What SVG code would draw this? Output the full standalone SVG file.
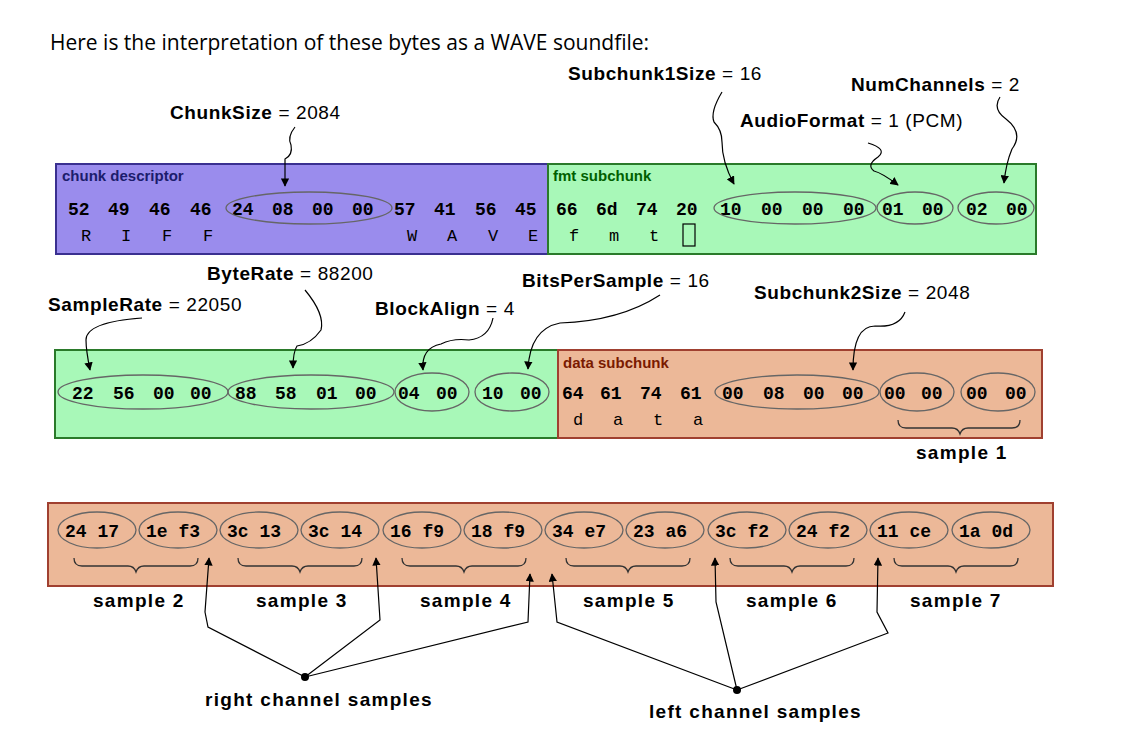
<svg xmlns="http://www.w3.org/2000/svg" width="1124" height="749" viewBox="0 0 1124 749">
<defs>
<marker id="ah" viewBox="0 0 10 10" refX="9" refY="5" markerWidth="7" markerHeight="7" orient="auto"><path d="M0,0 L10,5 L0,10 Z" fill="#000"/></marker>
<style>
.hx{font-family:"Liberation Mono",monospace;font-size:18px;font-weight:bold;fill:#000}
.ch{font-family:"Liberation Mono",monospace;font-size:17px;fill:#000}
.lb{font-family:"Liberation Sans",Arial,sans-serif;font-size:19px;letter-spacing:0.6px;fill:#000}
.lb .n{font-weight:bold}
.ov{fill:none;stroke:#666;stroke-width:1.3}
.cn{fill:none;stroke:#000;stroke-width:1.2}
.br{fill:none;stroke:#333;stroke-width:1.3}
.sl{font-family:"Liberation Sans",Arial,sans-serif;font-size:19px;letter-spacing:1.3px;font-weight:bold;fill:#000}
</style>
</defs>
<rect width="1124" height="749" fill="#fff"/>
<text x="50" y="50" font-family="'Open Sans',sans-serif" font-size="21" fill="#000">Here is the interpretation of these bytes as a WAVE soundfile:</text>

<g id="chunk-descriptor">
<rect x="56" y="164" width="492" height="90" fill="#9a8ced" stroke="#3a3090" stroke-width="2"/>
<text x="62" y="181" font-family="'Liberation Sans',sans-serif" font-size="15" font-weight="bold" fill="#1c1c6c">chunk descriptor</text>
<text class="hx" y="215"><tspan x="68">52</tspan><tspan x="108">49</tspan><tspan x="149">46</tspan><tspan x="190">46</tspan><tspan x="232">24</tspan><tspan x="272">08</tspan><tspan x="312">00</tspan><tspan x="352">00</tspan><tspan x="394">57</tspan><tspan x="434">41</tspan><tspan x="475">56</tspan><tspan x="515">45</tspan></text>
<text class="ch" y="241"><tspan x="81">R</tspan><tspan x="121">I</tspan><tspan x="162">F</tspan><tspan x="203">F</tspan><tspan x="407">W</tspan><tspan x="447">A</tspan><tspan x="488">V</tspan><tspan x="528">E</tspan></text>
<ellipse class="ov" cx="309" cy="208" rx="83" ry="16"/>
</g>

<g id="fmt-subchunk">
<rect x="548" y="164" width="488" height="90" fill="#a8f8b8" stroke="#2a7a2a" stroke-width="2"/>
<text x="553" y="181" font-family="'Liberation Sans',sans-serif" font-size="15" font-weight="bold" fill="#006000">fmt subchunk</text>
<text class="hx" y="215"><tspan x="556">66</tspan><tspan x="596">6d</tspan><tspan x="636">74</tspan><tspan x="676">20</tspan><tspan x="720">10</tspan><tspan x="761">00</tspan><tspan x="802">00</tspan><tspan x="843">00</tspan><tspan x="882">01</tspan><tspan x="922">00</tspan><tspan x="966">02</tspan><tspan x="1006">00</tspan></text>
<text class="ch" y="241"><tspan x="569">f</tspan><tspan x="609">m</tspan><tspan x="649">t</tspan></text>
<rect x="683" y="224" width="12" height="22" fill="none" stroke="#000" stroke-width="1.2"/>
<ellipse class="ov" cx="795" cy="208" rx="81" ry="16"/>
<ellipse class="ov" cx="915" cy="208" rx="38" ry="16"/>
<ellipse class="ov" cx="996" cy="208" rx="38" ry="16"/>
</g>

<g id="fmt2">
<rect x="55" y="350" width="503" height="88" fill="#a8f8b8" stroke="#2a7a2a" stroke-width="2"/>
<text class="hx" y="399"><tspan x="72">22</tspan><tspan x="113">56</tspan><tspan x="153">00</tspan><tspan x="190">00</tspan><tspan x="235">88</tspan><tspan x="275">58</tspan><tspan x="316">01</tspan><tspan x="355">00</tspan><tspan x="398">04</tspan><tspan x="436">00</tspan><tspan x="482">10</tspan><tspan x="520">00</tspan></text>
<ellipse class="ov" cx="143" cy="392" rx="85" ry="17"/>
<ellipse class="ov" cx="311" cy="392" rx="83" ry="17"/>
<ellipse class="ov" cx="432" cy="392" rx="37" ry="19"/>
<ellipse class="ov" cx="512" cy="392" rx="37" ry="19"/>
</g>

<g id="data-subchunk">
<rect x="558" y="350" width="484" height="88" fill="#ecb898" stroke="#a04030" stroke-width="2"/>
<text x="563" y="368" font-family="'Liberation Sans',sans-serif" font-size="15" font-weight="bold" fill="#7a1a00">data subchunk</text>
<text class="hx" y="399"><tspan x="562">64</tspan><tspan x="600">61</tspan><tspan x="640">74</tspan><tspan x="680">61</tspan><tspan x="722">00</tspan><tspan x="763">08</tspan><tspan x="803">00</tspan><tspan x="842">00</tspan><tspan x="884">00</tspan><tspan x="921">00</tspan><tspan x="966">00</tspan><tspan x="1005">00</tspan></text>
<text class="ch" y="425"><tspan x="573">d</tspan><tspan x="613">a</tspan><tspan x="653">t</tspan><tspan x="693">a</tspan></text>
<ellipse class="ov" cx="797" cy="392" rx="82" ry="17"/>
<ellipse class="ov" cx="917" cy="392" rx="37" ry="19"/>
<ellipse class="ov" cx="998" cy="392" rx="37" ry="19"/>
<path class="br" d="M898,420 q0,8 8,8 h46 q6,0 8,6 q2,-6 8,-6 h44 q8,0 8,-8"/>
</g>

<g id="samples">
<rect x="48" y="503" width="1005" height="83" fill="#ecb898" stroke="#a04030" stroke-width="2"/>
<g class="ov">
<ellipse cx="97" cy="530" rx="39" ry="18"/><ellipse cx="178" cy="530" rx="39" ry="18"/>
<ellipse cx="259" cy="530" rx="39" ry="18"/><ellipse cx="340" cy="530" rx="39" ry="18"/>
<ellipse cx="422" cy="530" rx="39" ry="18"/><ellipse cx="503" cy="530" rx="39" ry="18"/>
<ellipse cx="584" cy="530" rx="39" ry="18"/><ellipse cx="665" cy="530" rx="39" ry="18"/>
<ellipse cx="747" cy="530" rx="39" ry="18"/><ellipse cx="828" cy="530" rx="39" ry="18"/>
<ellipse cx="909" cy="530" rx="39" ry="18"/><ellipse cx="991" cy="530" rx="39" ry="18"/>
</g>
<text class="hx" y="537" font-size="19"><tspan x="65">24 17</tspan><tspan x="146">1e f3</tspan><tspan x="227">3c 13</tspan><tspan x="308">3c 14</tspan><tspan x="390">16 f9</tspan><tspan x="471">18 f9</tspan><tspan x="552">34 e7</tspan><tspan x="633">23 a6</tspan><tspan x="715">3c f2</tspan><tspan x="796">24 f2</tspan><tspan x="877">11 ce</tspan><tspan x="959">1a 0d</tspan></text>
<g class="br">
<path d="M74,558 q0,8 8,8 h46 q6,0 8,6 q2,-6 8,-6 h46 q8,0 8,-8"/>
<path d="M238,558 q0,8 8,8 h46 q6,0 8,6 q2,-6 8,-6 h46 q8,0 8,-8"/>
<path d="M402,558 q0,8 8,8 h46 q6,0 8,6 q2,-6 8,-6 h46 q8,0 8,-8"/>
<path d="M566,558 q0,8 8,8 h46 q6,0 8,6 q2,-6 8,-6 h46 q8,0 8,-8"/>
<path d="M730,558 q0,8 8,8 h46 q6,0 8,6 q2,-6 8,-6 h46 q8,0 8,-8"/>
<path d="M894,558 q0,8 8,8 h46 q6,0 8,6 q2,-6 8,-6 h46 q8,0 8,-8"/>
</g>
</g>

<g id="labels">
<text class="lb" x="170" y="119"><tspan class="n">ChunkSize</tspan> = 2084</text>
<text class="lb" x="568" y="80"><tspan class="n">Subchunk1Size</tspan> = 16</text>
<text class="lb" x="851" y="91"><tspan class="n">NumChannels</tspan> = 2</text>
<text class="lb" x="740" y="127"><tspan class="n">AudioFormat</tspan> = 1 (PCM)</text>
<text class="lb" x="207" y="280"><tspan class="n">ByteRate</tspan> = 88200</text>
<text class="lb" x="48" y="311"><tspan class="n">SampleRate</tspan> = 22050</text>
<text class="lb" x="375" y="315"><tspan class="n">BlockAlign</tspan> = 4</text>
<text class="lb" x="522" y="287"><tspan class="n">BitsPerSample</tspan> = 16</text>
<text class="lb" x="754" y="299"><tspan class="n">Subchunk2Size</tspan> = 2048</text>
<text class="sl" x="916" y="459">sample 1</text>
<text class="sl" y="607"><tspan x="93">sample 2</tspan><tspan x="256">sample 3</tspan><tspan x="420">sample 4</tspan><tspan x="583">sample 5</tspan><tspan x="746">sample 6</tspan><tspan x="910">sample 7</tspan></text>
<text class="sl" x="205" y="706">right channel samples</text>
<text class="sl" x="649" y="718">left channel samples</text>
</g>

<g id="connectors" class="cn">
<path d="M295,127 q-8,10 -4,18 q2,10 -6,14 v27" marker-end="url(#ah)"/>
<path d="M722,92 q-12,20 -8,30 q8,8 8,20 q0,20 12,42" marker-end="url(#ah)"/>
<path d="M1000,97 q-8,12 6,22 q18,14 6,30 q-6,14 -8,34" marker-end="url(#ah)"/>
<path d="M868,143 q20,6 10,14 q-12,8 -4,14 q8,2 24,14" marker-end="url(#ah)"/>
<path d="M142,318 q-56,4 -56,22 q0,10 4,30" marker-end="url(#ah)"/>
<path d="M305,290 q20,24 16,40 q-10,14 -24,16 q-4,6 -4,22" marker-end="url(#ah)"/>
<path d="M493,318 q-4,20 -24,22 q-16,-2 -28,4 q-20,4 -18,26" marker-end="url(#ah)"/>
<path d="M660,295 q-40,26 -100,28 q-30,6 -32,46" marker-end="url(#ah)"/>
<path d="M905,312 q-6,16 -30,14 q-22,0 -22,44" marker-end="url(#ah)"/>
<path d="M305,677 L208,627 L205,612 L209,558" marker-end="url(#ah)"/>
<path d="M305,677 L380,620 L376,558" marker-end="url(#ah)"/>
<path d="M305,677 L528,622 L530,574" marker-end="url(#ah)"/>
<path d="M737,690 L557,622 L552,574" marker-end="url(#ah)"/>
<path d="M737,690 L716,602 L715,558" marker-end="url(#ah)"/>
<path d="M737,690 L888,633 L877,612 L878,558" marker-end="url(#ah)"/>
<circle cx="305" cy="677" r="4" fill="#000" stroke="none"/>
<circle cx="737" cy="690" r="4" fill="#000" stroke="none"/>
</g>
</svg>
